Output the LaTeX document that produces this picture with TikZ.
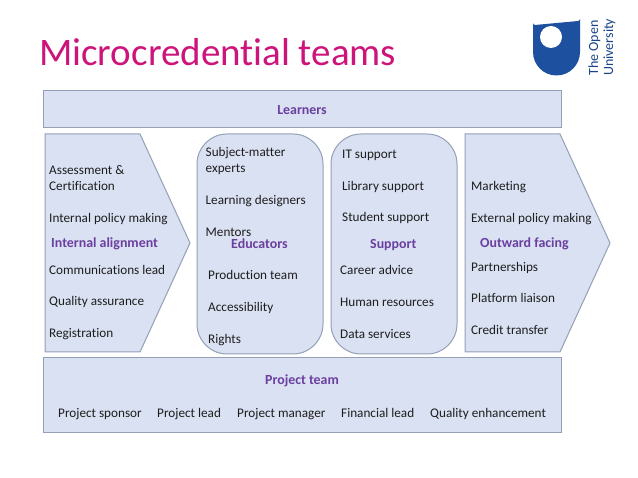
\documentclass[tikz,border=0pt]{standalone}
\usepackage{fontspec}
\setmainfont[Ligatures=NoCommon]{Carlito}
\definecolor{panel}{RGB}{217,225,242}
\definecolor{edge}{RGB}{148,160,182}
\definecolor{head}{RGB}{107,63,160}
\definecolor{ink}{RGB}{30,30,30}
\definecolor{pink}{RGB}{204,20,122}
\definecolor{oublue}{RGB}{30,80,160}
\tikzset{
  box/.style={draw=edge,fill=panel,line width=1pt},
  item/.style={anchor=base west,inner sep=0pt,yshift=-0.7pt,text=ink,font=\fontsize{13.2}{15}\selectfont},
  headl/.style={anchor=base west,inner sep=0pt,text=head,font=\fontsize{13.9}{15}\selectfont\bfseries},
}
\begin{document}
\begin{tikzpicture}[x=1pt,y=-1pt]
\useasboundingbox (0,0) rectangle (638,478);
\fill[white] (0,0) rectangle (638,478);
\node[anchor=base west,inner sep=0pt,text=pink,font=\fontsize{39}{41}\selectfont] (title) at (39,66) {Microcredential teams};
% logo
\fill[oublue] (533,23) arc[start angle=180,end angle=90,radius=2] -- (578,21) arc[start angle=90,end angle=0,radius=2] -- (580,52) arc[start angle=0,end angle=180,radius=23.5] -- cycle;
\fill[white] (551,37) circle[radius=11];
\node[rotate=90,anchor=base west,inner sep=0pt,text=oublue!85!black,font=\fontsize{14}{15}\selectfont] (ou1) at (598,76) {The Open};
\node[rotate=90,anchor=base west,inner sep=0pt,text=oublue!85!black,font=\fontsize{14}{15}\selectfont] (ou2) at (613,76) {University};
% panels
\draw[box] (43,91) rectangle (561,128);
\draw[box] (45,134) -- (140,134) -- (190,243) -- (140,352) -- (45,352) -- cycle;
\draw[box,rounded corners=30pt] (197,134) rectangle (323,354);
\draw[box,rounded corners=30pt] (331,134) rectangle (457,354);
\draw[box] (465,134) -- (560,134) -- (610,243) -- (560,352) -- (465,352) -- cycle;
\draw[box] (43,358) rectangle (561,433);
% headings
\node[headl,anchor=base] (learners) at (302,114.5) {Learners};
\node[headl] (internal) at (51,248) {Internal alignment};
\node[headl] (educators) at (231,248.5) {Educators};
\node[headl] (support) at (370,249) {Support};
\node[headl] (outward) at (480,248) {Outward facing};
\node[headl,anchor=base] (project) at (302,384.5) {Project team};
% internal
\node[item] (a1) at (49,174) {Assessment \&};
\node[item] (a2) at (49,190) {Certification};
\node[item] (a3) at (49,222) {Internal policy making};
\node[item] (a4) at (49,273.5) {Communications lead};
\node[item] (a5) at (49,305) {Quality assurance};
\node[item] (a6) at (49,337) {Registration};
% educators
\node[item] (b1) at (205.5,156) {Subject-matter};
\node[item] (b2) at (205.5,172) {experts};
\node[item] (b3) at (205.5,204) {Learning designers};
\node[item] (b4) at (205.5,236) {Mentors};
\node[item] (b5) at (208,279) {Production team};
\node[item] (b6) at (208,310.5) {Accessibility};
\node[item] (b7) at (208,342.5) {Rights};
% support
\node[item] (c1) at (342,158) {IT support};
\node[item] (c2) at (342,189.5) {Library support};
\node[item] (c3) at (342,221) {Student support};
\node[item] (c4) at (340,274) {Career advice};
\node[item] (c5) at (340,306) {Human resources};
\node[item] (c6) at (340,338) {Data services};
% outward
\node[item] (d1) at (471,190) {Marketing};
\node[item] (d2) at (471,222) {External policy making};
\node[item] (d3) at (471,270.5) {Partnerships};
\node[item] (d4) at (471,302) {Platform liaison};
\node[item] (d5) at (471,334) {Credit transfer};
% project
\node[item] (e1) at (58,416.5) {Project sponsor};
\node[item] (e2) at (157,416.5) {Project lead};
\node[item] (e3) at (237,416.5) {Project manager};
\node[item] (e4) at (341,416.5) {Financial lead};
\node[item] (e5) at (430,416.5) {Quality enhancement};
\end{tikzpicture}
\end{document}
